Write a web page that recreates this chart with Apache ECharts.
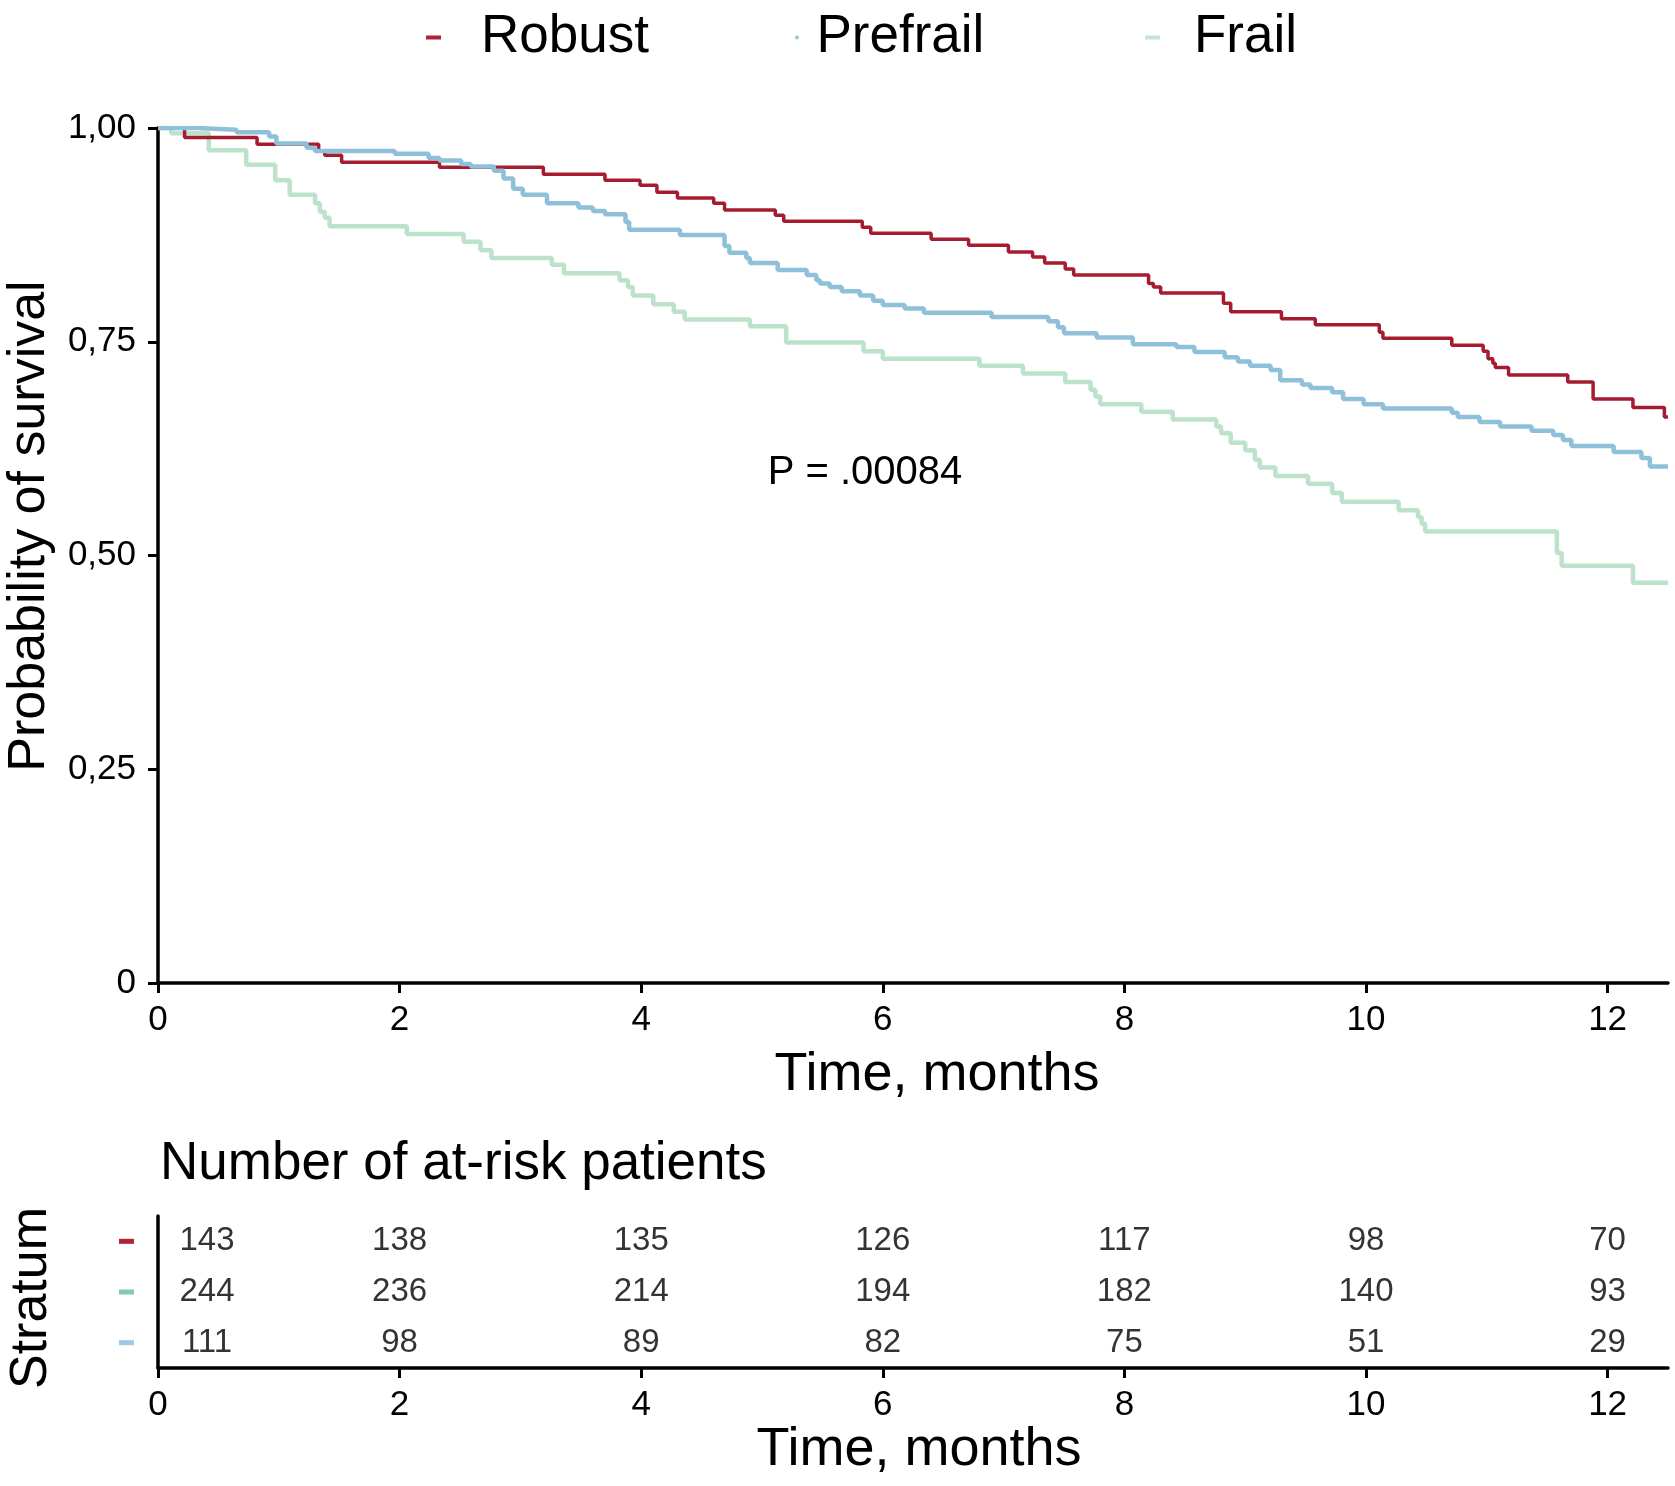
<!DOCTYPE html>
<html>
<head>
<meta charset="utf-8">
<script src="https://cdn.jsdelivr.net/npm/echarts@6/dist/echarts.min.js"></script>
<style>
  html, body { margin: 0; padding: 0; background: #fff; }
  #app { width: 1675px; height: 1486px; }
</style>
</head>
<body>
<div id="app"></div>
<script>
// Kaplan-Meier step points: [months, survival]
const robust = [
  [0, 1.0], [0.22, 0.989], [0.82, 0.981], [1.33, 0.973], [1.38, 0.968], [1.52, 0.960],
  [2.33, 0.954], [3.19, 0.946], [3.70, 0.939], [3.99, 0.933], [4.13, 0.925], [4.30, 0.918],
  [4.60, 0.912], [4.69, 0.904], [5.11, 0.898], [5.18, 0.891], [5.83, 0.884], [5.90, 0.877],
  [6.40, 0.870], [6.71, 0.863], [7.04, 0.855], [7.24, 0.849], [7.34, 0.842], [7.51, 0.835],
  [7.58, 0.828], [8.20, 0.818], [8.24, 0.814], [8.30, 0.807], [8.82, 0.795], [8.88, 0.785],
  [9.30, 0.777], [9.58, 0.770], [10.11, 0.761], [10.14, 0.754], [10.71, 0.746], [10.97, 0.739],
  [11.01, 0.730], [11.05, 0.725], [11.07, 0.720], [11.18, 0.711], [11.67, 0.703], [11.88, 0.683],
  [12.21, 0.673], [12.47, 0.662], [12.5, 0.662]
];
const prefrail = [
  [0, 1.0], [0.32, 0.998], [0.65, 0.995], [0.92, 0.990], [0.98, 0.982], [1.23, 0.977],
  [1.30, 0.973], [1.96, 0.970], [2.24, 0.965], [2.33, 0.962], [2.51, 0.958], [2.59, 0.955],
  [2.78, 0.950], [2.86, 0.941], [2.94, 0.929], [3.02, 0.922], [3.22, 0.912], [3.48, 0.907],
  [3.60, 0.903], [3.70, 0.899], [3.87, 0.890], [3.90, 0.881], [4.32, 0.875], [4.69, 0.862],
  [4.73, 0.854], [4.87, 0.848], [4.90, 0.842], [5.13, 0.834], [5.37, 0.828], [5.45, 0.822],
  [5.48, 0.818], [5.56, 0.814], [5.66, 0.809], [5.81, 0.804], [5.92, 0.798], [6.00, 0.793],
  [6.18, 0.789], [6.34, 0.784], [6.90, 0.779], [7.37, 0.774], [7.45, 0.767], [7.50, 0.760],
  [7.77, 0.755], [8.07, 0.747], [8.43, 0.744], [8.58, 0.738], [8.83, 0.732], [8.94, 0.727],
  [9.04, 0.722], [9.21, 0.717], [9.29, 0.705], [9.47, 0.700], [9.54, 0.696], [9.72, 0.691],
  [9.81, 0.683], [9.98, 0.677], [10.14, 0.672], [10.71, 0.667], [10.76, 0.662], [10.94, 0.656],
  [11.11, 0.651], [11.37, 0.646], [11.55, 0.641], [11.63, 0.635], [11.70, 0.628], [12.05, 0.621],
  [12.28, 0.614], [12.35, 0.604], [12.5, 0.604]
];
const frail = [
  [0, 1.0], [0.11, 0.994], [0.42, 0.974], [0.73, 0.957], [0.97, 0.939], [1.09, 0.922],
  [1.30, 0.912], [1.34, 0.902], [1.38, 0.895], [1.42, 0.885], [2.06, 0.876], [2.53, 0.867],
  [2.67, 0.857], [2.76, 0.848], [3.26, 0.840], [3.36, 0.830], [3.82, 0.822], [3.89, 0.814],
  [3.93, 0.804], [4.10, 0.794], [4.27, 0.785], [4.36, 0.776], [4.90, 0.768], [5.20, 0.749],
  [5.84, 0.739], [6.00, 0.730], [6.80, 0.722], [7.16, 0.713], [7.51, 0.703], [7.72, 0.694],
  [7.76, 0.686], [7.80, 0.677], [8.14, 0.668], [8.40, 0.659], [8.76, 0.651], [8.80, 0.643],
  [8.88, 0.632], [9.00, 0.623], [9.08, 0.612], [9.12, 0.603], [9.25, 0.593], [9.52, 0.584],
  [9.72, 0.573], [9.80, 0.563], [10.27, 0.553], [10.43, 0.545], [10.46, 0.537], [10.49, 0.528],
  [11.58, 0.503], [11.62, 0.488], [12.21, 0.468], [12.5, 0.468]
];

// number at risk table
const riskTimes = [0, 2, 4, 6, 8, 10, 12];
const strata = ['Robust', 'Prefrail', 'Frail'];
const riskRobust = [143, 138, 135, 126, 117, 98, 70];
const riskPrefrail = [244, 236, 214, 194, 182, 140, 93];
const riskFrail = [111, 98, 89, 82, 75, 51, 29];

const xTicks = [0, 2, 4, 6, 8, 10, 12];

const FONT = '"Liberation Sans", Arial, Helvetica, sans-serif';
const lineColors = {Robust: '#a51c30', Prefrail: '#8fc0d9', Frail: '#bce2ca'};
const dashColors = {Robust: '#b0223a', Prefrail: '#7fcbb8', Frail: '#9ccbe6'};

const chart = echarts.init(document.getElementById('app'));

const timeAxis = (gridIndex) => ({
    type: 'value',
    gridIndex,
    min: 0,
    max: 12.5,
    interval: 2,
    axisLine: {show: true, onZero: false, lineStyle: {color: '#000', width: 3.5}},
    axisTick: {show: true, length: 10, customValues: xTicks, lineStyle: {color: '#000', width: 3}},
    axisLabel: {customValues: xTicks, fontSize: 35, color: '#000', margin: 20, fontFamily: FONT},
    splitLine: {show: false}
});

const riskSeries = (name, values) => ({
    type: 'scatter',
    name: name + ' at risk',
    xAxisIndex: 1,
    yAxisIndex: 1,
    symbolSize: 0,
    silent: true,
    data: values.map((n, i) => ({
        value: [riskTimes[i], name, n],
        // first column is nudged right of the axis, as in the figure
        label: i === 0 ? {offset: [49, 0]} : undefined
    })),
    label: {
        show: true,
        position: 'inside',
        formatter: (p) => String(p.value[2]),
        fontSize: 33,
        color: '#000',
        fontFamily: FONT
    }
});

const kmSeries = (name, data, width, z) => ({
    type: 'line',
    name,
    step: 'end',
    showSymbol: false,
    symbol: 'none',
    z,
    xAxisIndex: 0,
    yAxisIndex: 0,
    lineStyle: {color: lineColors[name], width},
    itemStyle: {color: lineColors[name]},
    data
});

// one legend block per stratum so each key sits where the figure has it
const legendItem = (name, left, icon, color, gap) => ({
    left,
    top: 6,
    itemWidth: 15,
    itemHeight: 4,
    selectedMode: false,
    textStyle: {fontSize: 53, color: '#000', fontFamily: FONT, padding: [0, 0, 0, gap]},
    data: [{name, icon, itemStyle: {color}}]
});

const option = {
    animation: false,
    backgroundColor: '#fff',
    textStyle: {fontFamily: FONT},
    legend: [
        legendItem('Robust', 421, 'rect', '#b0223a', 35),
        legendItem('Prefrail', 790, 'circle', '#8ecfc9', 7),
        legendItem('Frail', 1140, 'rect', '#c2e6d3', 29)
    ],
    grid: [
        {left: 158, top: 128, width: 1510, height: 855},
        {left: 158, top: 1216, width: 1510, height: 152}
    ],
    xAxis: [timeAxis(0), timeAxis(1)],
    yAxis: [
        {
            type: 'value',
            gridIndex: 0,
            min: 0,
            max: 1,
            interval: 0.25,
            axisLine: {show: true, lineStyle: {color: '#000', width: 3.5}},
            axisTick: {show: true, length: 10, lineStyle: {color: '#000', width: 3}},
            axisLabel: {
                fontSize: 35,
                color: '#000',
                margin: 22,
                fontFamily: FONT,
                formatter: (v) => v === 0 ? '0' : v.toFixed(2).replace('.', ',')
            },
            splitLine: {show: false}
        },
        {
            type: 'category',
            gridIndex: 1,
            inverse: true,
            data: strata,
            axisLine: {show: true, lineStyle: {color: '#000', width: 3.5}},
            axisTick: {show: false},
            axisLabel: {
                margin: 24,
                formatter: (v) => '{' + v + '| }',
                rich: {
                    Robust: {width: 15, height: 5, backgroundColor: dashColors.Robust, fontSize: 4},
                    Prefrail: {width: 15, height: 5, backgroundColor: dashColors.Prefrail, fontSize: 4},
                    Frail: {width: 15, height: 5, backgroundColor: dashColors.Frail, fontSize: 4}
                }
            },
            splitLine: {show: false}
        }
    ],
    graphic: [
        {
            type: 'text', x: 30, y: 526, rotation: Math.PI / 2,
            style: {text: 'Probability of survival', font: '52px ' + FONT, fill: '#000', textAlign: 'center', textVerticalAlign: 'middle'}
        },
        {
            type: 'text', x: 937, y: 1075,
            style: {text: 'Time, months', font: '54px ' + FONT, fill: '#000', textAlign: 'center', textVerticalAlign: 'middle'}
        },
        {
            type: 'text', x: 865, y: 473,
            style: {text: 'P = .00084', font: '40px ' + FONT, fill: '#000', textAlign: 'center', textVerticalAlign: 'middle'}
        },
        {
            type: 'text', x: 160, y: 1164,
            style: {text: 'Number of at-risk patients', font: '53px ' + FONT, fill: '#000', textAlign: 'left', textVerticalAlign: 'middle'}
        },
        {
            type: 'text', x: 32, y: 1298, rotation: Math.PI / 2,
            style: {text: 'Stratum', font: '52px ' + FONT, fill: '#000', textAlign: 'center', textVerticalAlign: 'middle'}
        },
        {
            type: 'text', x: 919, y: 1450,
            style: {text: 'Time, months', font: '54px ' + FONT, fill: '#000', textAlign: 'center', textVerticalAlign: 'middle'}
        }
    ],
    series: [
        kmSeries('Robust', robust, 3.5, 3),
        kmSeries('Frail', frail, 4.5, 2),
        kmSeries('Prefrail', prefrail, 4.5, 4),
        riskSeries('Robust', riskRobust),
        riskSeries('Prefrail', riskPrefrail),
        riskSeries('Frail', riskFrail)
    ]
};

chart.setOption(option);
addEventListener('resize', () => chart.resize());
</script>
</body>
</html>
